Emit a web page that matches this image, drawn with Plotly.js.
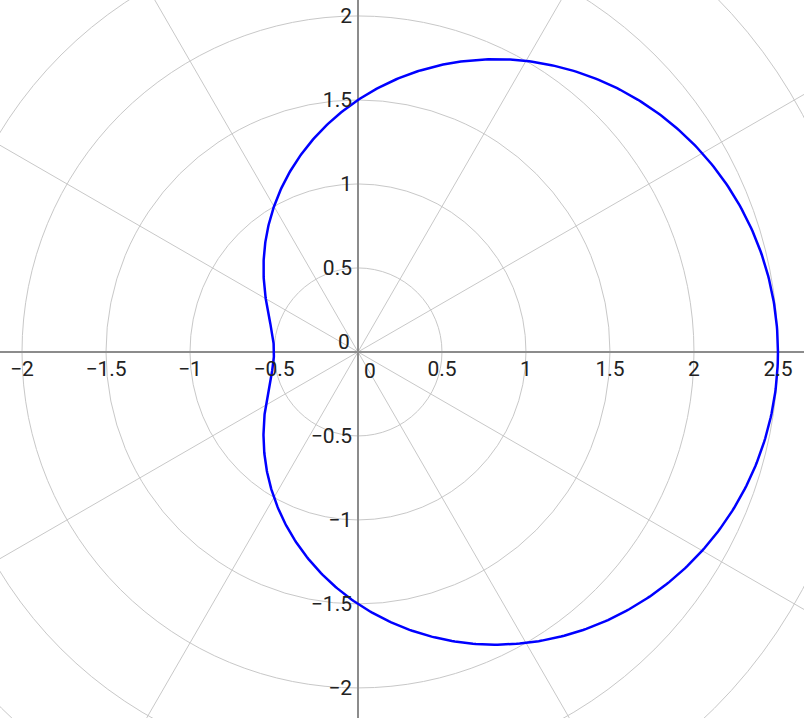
<!DOCTYPE html>
<html>
<head>
<meta charset="utf-8">
<script src="https://cdn.plot.ly/plotly-3.0.1.min.js"></script>
<style>
  html, body { margin: 0; padding: 0; background: #fff; }
  #myChart { width: 804px; height: 718px; }
</style>
</head>
<body>
<div id="myChart"></div>
<script>
// Limacon r = a + b*cos(theta)
const curveA = 1.5;
const curveB = 1;
const curveSteps = 720;

// Axis view and ticks
const xRange = [-2.131, 2.655];
const yRange = [-2.179, 2.095];
const xTicks = [-2, -1.5, -1, -0.5, 0.5, 1, 1.5, 2, 2.5];
const yTicks = [-2, -1.5, -1, -0.5, 0.5, 1, 1.5, 2];

// Polar grid
const gridRadii = [0.5, 1, 1.5, 2, 2.5, 3, 3.5];
const gridAngles = [30, 60, 120, 150, 210, 240, 300, 330];

const fmt = v => String(v).replace('-', '\u2212');

// Build the curve
const curveX = [], curveY = [];
for (let i = 0; i <= curveSteps; i++) {
    const t = 2 * Math.PI * i / curveSteps;
    const r = curveA + curveB * Math.cos(t);
    curveX.push(r * Math.cos(t));
    curveY.push(r * Math.sin(t));
}

const gridStyle = { color: '#c8c8c8', width: 1 };
const shapes = [];
gridRadii.forEach(r => {
    shapes.push({ type: 'circle', xref: 'x', yref: 'y', x0: -r, x1: r, y0: -r, y1: r,
        line: gridStyle, layer: 'below' });
});
gridAngles.forEach(a => {
    const rad = a * Math.PI / 180;
    shapes.push({ type: 'line', xref: 'x', yref: 'y', x0: 0, y0: 0,
        x1: 5 * Math.cos(rad), y1: 5 * Math.sin(rad), line: gridStyle, layer: 'below' });
});

const tickFont = { family: 'Roboto, sans-serif', size: 21, color: '#222' };

const layout = {
    width: 804, height: 718,
    margin: { l: 0, r: 0, t: 0, b: 0 },
    paper_bgcolor: '#fff', plot_bgcolor: '#fff',
    showlegend: false,
    xaxis: {
        range: xRange, showgrid: false, zeroline: true, zerolinecolor: '#8c8c8c', zerolinewidth: 1.5,
        tickmode: 'array', tickvals: xTicks, ticktext: xTicks.map(fmt), ticks: '',
        anchor: 'free', position: (0 - yRange[0]) / (yRange[1] - yRange[0]),
        tickfont: tickFont, ticklabelstandoff: 2, fixedrange: true
    },
    yaxis: {
        range: yRange, showgrid: false, zeroline: true, zerolinecolor: '#8c8c8c', zerolinewidth: 1.5,
        tickmode: 'array', tickvals: yTicks, ticktext: yTicks.map(fmt), ticks: '',
        anchor: 'free', position: (0 - xRange[0]) / (xRange[1] - xRange[0]),
        tickfont: tickFont, ticklabelstandoff: 6, fixedrange: true
    },
    shapes: shapes,
    annotations: [
        { x: 0, y: 0, xref: 'x', yref: 'y', text: '0', showarrow: false, font: tickFont,
          xshift: -14, yshift: 10 },
        { x: 0, y: 0, xref: 'x', yref: 'y', text: '0', showarrow: false, font: tickFont,
          xshift: 12, yshift: -19 }
    ]
};

const traces = [{
    x: curveX, y: curveY, type: 'scatter', mode: 'lines',
    line: { color: '#0000ff', width: 2.5 }, hoverinfo: 'skip'
}];

Plotly.newPlot('myChart', traces, layout, { displayModeBar: false, staticPlot: true });
</script>
</body>
</html>
